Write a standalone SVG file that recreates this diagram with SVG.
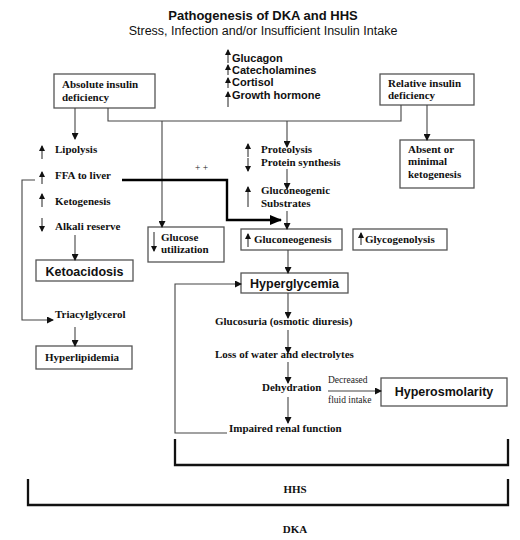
<svg xmlns="http://www.w3.org/2000/svg" width="520" height="540" viewBox="0 0 520 540">
<defs>
<style>
.bg{fill:#ffffff}
.box{fill:#ffffff;stroke:#555;stroke-width:1.3}
.ln{fill:none;stroke:#444;stroke-width:1.1}
.thick{fill:none;stroke:#000;stroke-width:2.4}
.br{fill:none;stroke:#111;stroke-width:2.3}
.ind{fill:none;stroke:#222;stroke-width:1}
.t{font-family:"Liberation Serif","Times New Roman",serif;font-weight:bold;font-size:11px;fill:#111}
.s{font-family:"Liberation Sans",Arial,sans-serif;font-weight:bold;fill:#111}
.title{font-family:"Liberation Sans",Arial,sans-serif;font-weight:bold;font-size:13px;fill:#111}
.sub{font-family:"Liberation Sans",Arial,sans-serif;font-size:12.5px;fill:#111}
.small{font-family:"Liberation Serif","Times New Roman",serif;font-size:9.5px;fill:#222}
</style>
<marker id="ah" markerWidth="7" markerHeight="7" refX="6" refY="3.5" orient="auto" markerUnits="userSpaceOnUse">
<path d="M0,0 L7,3.5 L0,7 z" fill="#111"/>
</marker>
<marker id="ahb" markerWidth="12" markerHeight="10" refX="11" refY="5" orient="auto" markerUnits="userSpaceOnUse">
<path d="M0,0 L12,5 L0,10 z" fill="#000"/>
</marker>
<marker id="ai" markerWidth="6" markerHeight="6" refX="5" refY="3" orient="auto" markerUnits="userSpaceOnUse">
<path d="M0,0 L6,3 L0,6 z" fill="#111"/>
</marker>
</defs>
<rect class="bg" x="0" y="0" width="520" height="540"/>

<g id="title">
<text class="title" x="263" y="20" text-anchor="middle">Pathogenesis of DKA and HHS</text>
<text class="sub" x="263" y="35" text-anchor="middle">Stress, Infection and/or Insufficient Insulin Intake</text>
</g>

<g id="hormones">
<line class="ind" x1="228" y1="63" x2="228" y2="50" marker-end="url(#ai)"/>
<line class="ind" x1="228" y1="75" x2="228" y2="65" marker-end="url(#ai)"/>
<line class="ind" x1="228" y1="88" x2="228" y2="78" marker-end="url(#ai)"/>
<line class="ind" x1="228" y1="107" x2="228" y2="92" marker-end="url(#ai)"/>
<text class="s" font-size="11" x="232" y="62">Glucagon</text>
<text class="s" font-size="11" x="232" y="74">Catecholamines</text>
<text class="s" font-size="11" x="232" y="86">Cortisol</text>
<text class="s" font-size="11" x="232" y="99">Growth hormone</text>
</g>

<g id="absolute">
<rect class="box" x="54" y="74" width="101" height="34"/>
<text class="t" x="62" y="88">Absolute insulin</text>
<text class="t" x="62" y="101">deficiency</text>
</g>

<g id="relative">
<rect class="box" x="380" y="74" width="94" height="31"/>
<text class="t" x="388" y="87">Relative insulin</text>
<text class="t" x="388" y="99">deficiency</text>
</g>

<g id="absent">
<rect class="box" x="400" y="140" width="74" height="48"/>
<text class="t" x="408" y="153">Absent or</text>
<text class="t" x="408" y="165">minimal</text>
<text class="t" x="408" y="178">ketogenesis</text>
</g>

<g id="lipid-steps">
<line class="ind" x1="42" y1="159" x2="42" y2="146" marker-end="url(#ai)"/>
<text class="t" x="55" y="153">Lipolysis</text>
<line class="ind" x1="42" y1="184" x2="42" y2="172" marker-end="url(#ai)"/>
<text class="t" x="55" y="179">FFA to liver</text>
<line class="ind" x1="42" y1="207" x2="42" y2="194" marker-end="url(#ai)"/>
<text class="t" x="55" y="205">Ketogenesis</text>
<line class="ind" x1="42" y1="218" x2="42" y2="231" marker-end="url(#ai)"/>
<text class="t" x="55" y="230">Alkali reserve</text>
<text class="small" x="195" y="171">+ +</text>
</g>

<g id="ketoacidosis">
<rect class="box" x="36" y="260" width="97" height="21"/>
<text class="s" font-size="12.5" x="84.5" y="275.5" text-anchor="middle">Ketoacidosis</text>
</g>

<g id="triacylglycerol">
<text class="t" x="55" y="318">Triacylglycerol</text>
</g>

<g id="hyperlipidemia">
<rect class="box" x="36" y="346" width="96" height="23"/>
<text class="t" x="45" y="361">Hyperlipidemia</text>
</g>

<g id="glucose-utilization">
<rect class="box" x="148" y="227" width="76" height="35"/>
<line class="ind" x1="154" y1="232" x2="154" y2="251" marker-end="url(#ai)"/>
<text class="t" x="161" y="241">Glucose</text>
<text class="t" x="161" y="253">utilization</text>
</g>

<g id="protein-steps">
<line class="ind" x1="248" y1="157" x2="248" y2="144" marker-end="url(#ai)"/>
<text class="t" x="261" y="153">Proteolysis</text>
<line class="ind" x1="248" y1="158" x2="248" y2="171" marker-end="url(#ai)"/>
<text class="t" x="261" y="166">Protein synthesis</text>
<line class="ind" x1="248" y1="207" x2="248" y2="187" marker-end="url(#ai)"/>
<text class="t" x="261" y="194">Gluconeogenic</text>
<text class="t" x="261" y="207">Substrates</text>
</g>

<g id="gluconeogenesis">
<rect class="box" x="241" y="229" width="101" height="21"/>
<line class="ind" x1="248" y1="247" x2="248" y2="234" marker-end="url(#ai)"/>
<text class="t" x="254" y="243">Gluconeogenesis</text>
</g>

<g id="glycogenolysis">
<rect class="box" x="353" y="229" width="94" height="21"/>
<line class="ind" x1="361" y1="245" x2="361" y2="233" marker-end="url(#ai)"/>
<text class="t" x="365" y="243">Glycogenolysis</text>
</g>

<g id="hyperglycemia">
<rect class="box" x="241" y="273" width="107" height="20"/>
<text class="s" font-size="12.5" x="294.5" y="287.5" text-anchor="middle">Hyperglycemia</text>
</g>

<g id="renal-steps">
<text class="t" x="215" y="325">Glucosuria (osmotic diuresis)</text>
<text class="t" x="215" y="358">Loss of water and electrolytes</text>
<text class="t" x="262" y="391">Dehydration</text>
<text class="t" x="229" y="432">Impaired renal function</text>
<text class="small" x="328" y="383">Decreased</text>
<text class="small" x="328" y="403">fluid intake</text>
</g>

<g id="hyperosmolarity">
<rect class="box" x="381" y="378" width="126" height="28"/>
<text class="s" font-size="12.5" x="444" y="396" text-anchor="middle">Hyperosmolarity</text>
</g>

<g id="connectors">
<line class="ln" x1="75" y1="108" x2="75" y2="139" marker-end="url(#ah)"/>
<path class="ln" d="M108,108 V121 H401 V105"/>
<line class="ln" x1="162" y1="121" x2="162" y2="227" marker-end="url(#ah)"/>
<line class="ln" x1="287" y1="121" x2="287" y2="147" marker-end="url(#ah)"/>
<line class="ln" x1="287" y1="169" x2="287" y2="189" marker-end="url(#ah)"/>
<line class="ln" x1="287" y1="211" x2="287" y2="229" marker-end="url(#ah)"/>
<line class="ln" x1="427" y1="105" x2="427" y2="140" marker-end="url(#ah)"/>
<path class="thick" d="M122,180 H227 V220 H281" marker-end="url(#ahb)"/>
<line class="ln" x1="75" y1="235" x2="75" y2="260" marker-end="url(#ah)"/>
<path class="ln" d="M35,180 H22 V320 H53" marker-end="url(#ah)"/>
<line class="ln" x1="75" y1="327" x2="75" y2="346" marker-end="url(#ah)"/>
<line class="ln" x1="288" y1="250" x2="288" y2="273" marker-end="url(#ah)"/>
<path class="ln" d="M227,433 H175 V284 H241" marker-end="url(#ah)"/>
<line class="ln" x1="288" y1="293" x2="288" y2="318" marker-end="url(#ah)"/>
<line class="ln" x1="288" y1="330" x2="288" y2="353" marker-end="url(#ah)"/>
<line class="ln" x1="288" y1="362" x2="288" y2="383" marker-end="url(#ah)"/>
<line class="ln" x1="288" y1="397" x2="288" y2="423" marker-end="url(#ah)"/>
<line class="ln" x1="328" y1="391" x2="381" y2="391" marker-end="url(#ah)"/>
</g>

<g id="brackets">
<path class="br" d="M175,439 V465 H508 V439"/>
<text class="t" font-size="13" x="295" y="493" text-anchor="middle">HHS</text>
<path class="br" d="M28,479 V505 H508 V479"/>
<text class="t" font-size="13" x="295" y="533" text-anchor="middle">DKA</text>
</g>
</svg>
